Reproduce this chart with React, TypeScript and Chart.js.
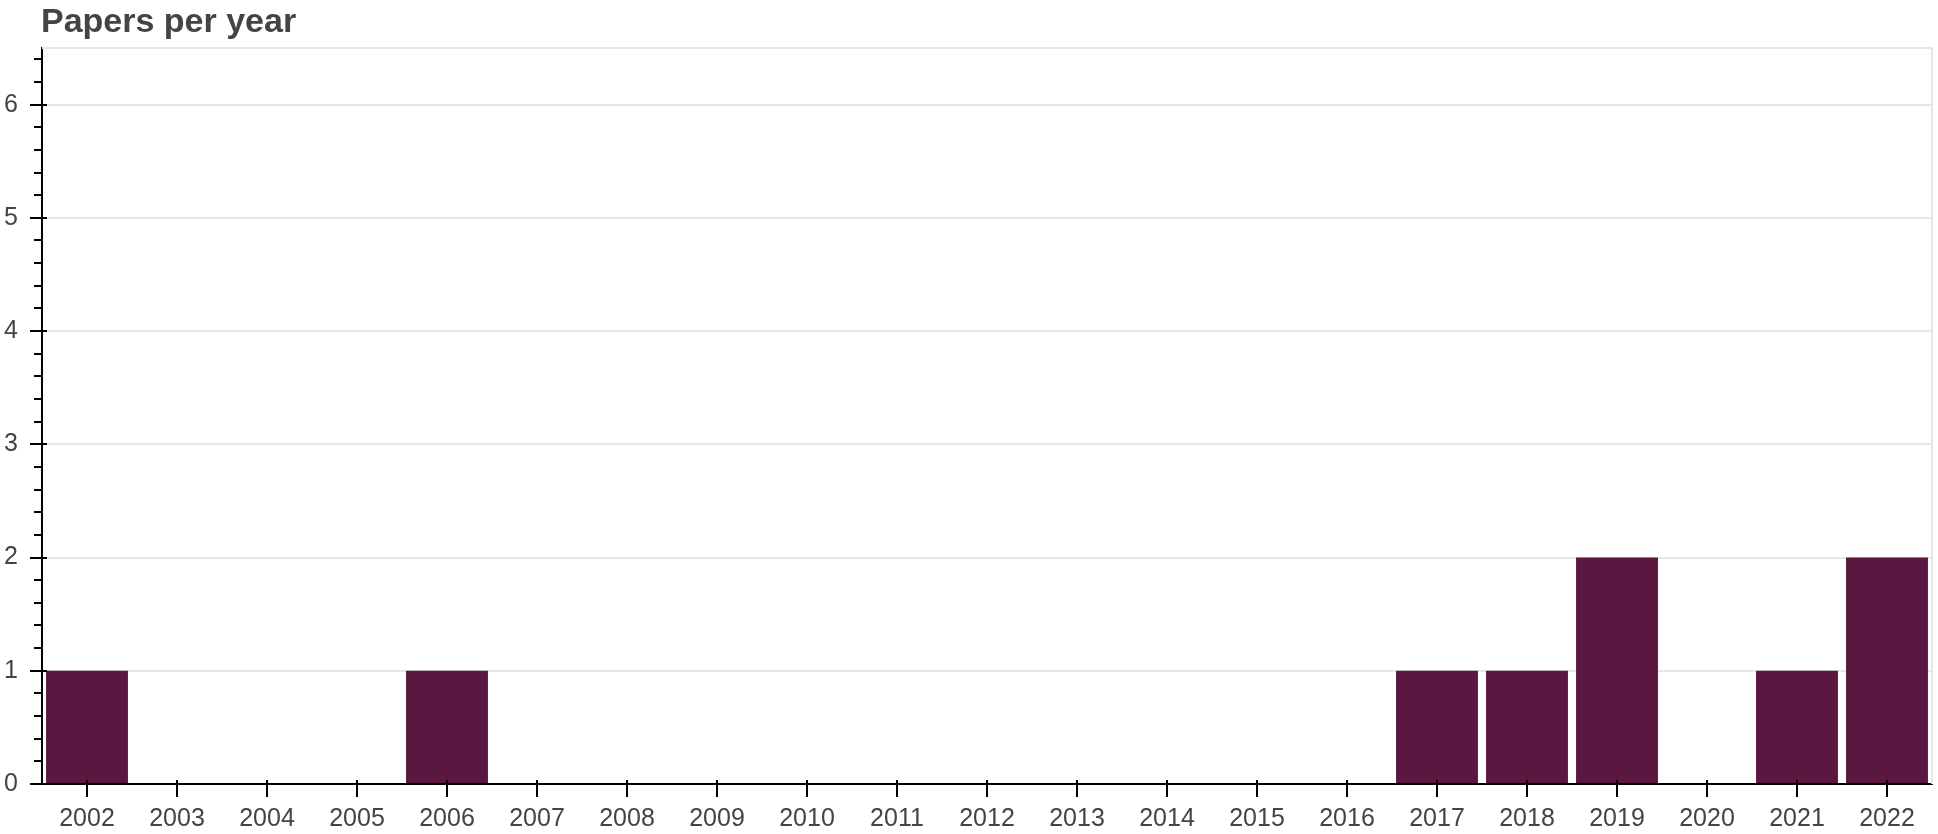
import React, { useEffect, useRef } from "react";
import { Chart, registerables } from "chart.js";

Chart.register(...registerables);

const categories: string[] = [
  "2002", "2003", "2004", "2005", "2006", "2007", "2008", "2009", "2010", "2011",
  "2012", "2013", "2014", "2015", "2016", "2017", "2018", "2019", "2020", "2021", "2022",
];
const papers: number[] = [1, 0, 0, 0, 1, 0, 0, 0, 0, 0, 0, 0, 0, 0, 0, 1, 1, 2, 0, 1, 2];
const titleText = "Papers per year";
const yMin = 0;
const yMax = 6.5;
const yMajorStep = 1;
const yMinorPerMajor = 5;

const FONT = '"Liberation Sans", Arial, Helvetica, sans-serif';
const TEXT = "#444444";
const AXIS = "#000000";
const GRID = "#e6e6e6";
const BAR = "#5a173f";

const decorPlugin = {
  id: "decor",
  afterDraw(chart: any) {
    const { ctx, chartArea } = chart;
    const xs = chart.scales.x;
    const ys = chart.scales.y;
    ctx.save();
    // outline top & right
    ctx.strokeStyle = GRID;
    ctx.lineWidth = 2;
    ctx.beginPath();
    ctx.moveTo(chartArea.left, chartArea.top);
    ctx.lineTo(chartArea.right, chartArea.top);
    ctx.lineTo(chartArea.right, chartArea.bottom);
    ctx.stroke();

    // y ticks (major and minor)
    ctx.strokeStyle = AXIS;
    ctx.lineWidth = 2;
    const ax = chartArea.left;
    const nMinor = Math.floor(((yMax - yMin) / yMajorStep) * yMinorPerMajor + 1e-9);
    for (let i = 0; i <= nMinor; i++) {
      const v = yMin + (i * yMajorStep) / yMinorPerMajor;
      if (v > yMax) break;
      const py = Math.round(ys.getPixelForValue(v)) + 0;
      const major = i % yMinorPerMajor === 0;
      ctx.beginPath();
      if (major) {
        ctx.moveTo(ax - 12, py);
        ctx.lineTo(ax + 5, py);
      } else {
        ctx.moveTo(ax - 8, py);
        ctx.lineTo(ax, py);
      }
      ctx.stroke();
    }

    // x ticks
    const ay = chartArea.bottom;
    for (let i = 0; i < categories.length; i++) {
      const px = Math.round(xs.getPixelForValue(i));
      ctx.beginPath();
      ctx.moveTo(px, ay - 4);
      ctx.lineTo(px, ay + 13);
      ctx.stroke();
    }

    // title
    ctx.fillStyle = TEXT;
    ctx.font = `bold 34px ${FONT}`;
    ctx.textAlign = "left";
    ctx.textBaseline = "alphabetic";
    ctx.fillText(titleText, chartArea.left - 1, 32);
    ctx.restore();
  },
};

export default function App() {
  const ref = useRef<HTMLCanvasElement | null>(null);

  useEffect(() => {
    if (!ref.current) return;
    const chart = new Chart(ref.current, {
      type: "bar",
      data: {
        labels: categories,
        datasets: [
          {
            label: "Papers",
            data: papers,
            backgroundColor: BAR,
            borderWidth: 0,
            barPercentage: 0.91,
            categoryPercentage: 1.0,
          },
        ],
      },
      options: {
        animation: false,
        responsive: true,
        maintainAspectRatio: false,
        layout: { padding: { left: 0, right: 6, top: 48, bottom: 0 } },
        plugins: {
          legend: { display: false },
          tooltip: { enabled: false },
          title: { display: false },
        },
        scales: {
          x: {
            type: "category",
            offset: true,
            grid: { display: false, drawTicks: false },
            border: { display: true, color: AXIS, width: 2 },
            ticks: {
              color: TEXT,
              font: { family: FONT, size: 25 },
              padding: 20,
              maxRotation: 0,
              autoSkip: false,
            },
            afterFit(scale: any) {
              scale.height = 50;
            },
          },
          y: {
            type: "linear",
            min: yMin,
            max: yMax,
            grid: { color: GRID, lineWidth: 2, drawTicks: false },
            border: { display: true, color: AXIS, width: 2 },
            ticks: {
              stepSize: yMajorStep,
              includeBounds: false,
              color: TEXT,
              font: { family: FONT, size: 25 },
              padding: 24,
            },
            afterFit(scale: any) {
              scale.width = 42;
            },
          },
        },
      },
      plugins: [decorPlugin],
    });
    return () => chart.destroy();
  }, []);

  return (
    <div style={{ position: "absolute", left: 0, top: 0, width: 1938, height: 834, background: "#fff" }}>
      <canvas ref={ref} />
    </div>
  );
}
